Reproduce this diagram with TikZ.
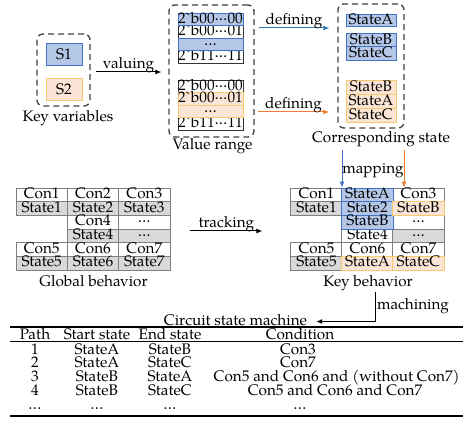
\documentclass[tikz,border=0pt]{standalone}
\usepackage{fontspec}
\setmainfont{TeX Gyre Pagella}
\usetikzlibrary{arrows.meta}
\definecolor{cblue}{HTML}{4472C4}
\definecolor{cbluefill}{HTML}{B4C7E7}
\definecolor{corange}{HTML}{F7C96E}
\definecolor{corangefill}{HTML}{FBE5D6}
\definecolor{cgray}{HTML}{7F7F7F}
\definecolor{cgrayfill}{HTML}{D9D9D9}
\definecolor{adef}{HTML}{2E75B6}
\definecolor{aorg}{HTML}{ED7D31}
\definecolor{dashc}{HTML}{404040}
\begin{document}
\begin{tikzpicture}[x=1pt,y=-1pt,font=\fontsize{15.3}{17}\selectfont,
  dbox/.style={draw=dashc,line width=1.3pt,dash pattern=on 6pt off 4pt,rounded corners=6pt,inner sep=0pt},
  cell/.style={draw,line width=0.8pt,minimum width=51.3pt,minimum height=13.67pt,inner sep=0pt,text height=10pt,text depth=2.5pt},
  cw/.style={cell,draw=cgray,fill=white},
  cg/.style={cell,draw=cgray,fill=cgrayfill},
  cb/.style={cell,draw=cblue,fill=cbluefill},
  co/.style={cell,draw=corange,fill=corangefill},
  vc/.style={draw,line width=0.8pt,minimum width=65pt,minimum height=12.5pt,inner sep=0pt,text height=9.5pt,text depth=1.5pt},
  vw/.style={vc,draw=black!80,fill=white},
  vb/.style={vc,draw=cblue,fill=cbluefill},
  vo/.style={vc,draw=corange,fill=corangefill},
  sc/.style={draw,line width=0.8pt,minimum width=50pt,inner sep=0pt,text height=10pt,text depth=1.5pt},
  sb/.style={sc,draw=cblue,fill=cbluefill},
  so/.style={sc,draw=corange,fill=corangefill},
  lbl/.style={inner sep=0pt,text height=10pt,text depth=3pt},
  arr/.style={line width=1pt,-{Latex[length=6pt,width=5pt]}},
  arrb/.style={line width=1pt,draw=adef,-{Latex[length=6pt,width=5pt]}},
  arro/.style={line width=1pt,draw=aorg,-{Latex[length=6pt,width=5pt]}},
  mapb/.style={line width=1pt,draw=cblue,-{Latex[length=6pt,width=5pt]}},
]
\useasboundingbox (0,0) rectangle (474,422);

% ---- Key variables
\node[dbox,minimum width=53pt,minimum height=72pt] (kv) at (63.5,70) {};
\node[draw=cblue,fill=cbluefill,line width=0.8pt,minimum width=36pt,minimum height=22pt,inner sep=0pt] (s1) at (64,54) {S1};
\node[draw=corange,fill=corangefill,line width=0.8pt,minimum width=36pt,minimum height=22pt,inner sep=0pt] (s2) at (64,89) {S2};
\node[lbl] (kvl) at (68,118.5) {Key variables};

% ---- Value range
\node[dbox,minimum width=85pt,minimum height=132pt] (vr) at (211.5,71) {};
\node[vw] (v2) at (210.5,31.75) {2\textasciigrave b00···01};
\node[vw] (v4) at (210.5,56.75) {2\textasciigrave b11···11};
\node[vb] (v1) at (210.5,19.25) {2\textasciigrave b00···00};
\node[vb] (v3) at (210.5,44.25) {···};
\node[vw] (v5) at (210.5,86.25) {2\textasciigrave b00···00};
\node[vw] (v8) at (210.5,123.75) {2\textasciigrave b11···11};
\node[vo] (v6) at (210.5,98.75) {2\textasciigrave b00···01};
\node[vo] (v7) at (210.5,111.25) {···};
\node[lbl] (vrl) at (212.5,146) {Value range};

% ---- Corresponding state
\node[dbox,minimum width=66pt,minimum height=124pt] (cs) at (371,66) {};
\node[sb,minimum height=12pt] (sA1) at (371,20) {StateA};
\node[sb,minimum height=13.5pt] (sB1) at (371,40) {StateB};
\node[sb,minimum height=13.5pt] (sC1) at (371,53.5) {StateC};
\node[so,minimum height=14pt] (sB2) at (371,87) {StateB};
\node[so,minimum height=14pt] (sA2) at (371,101) {StateA};
\node[so,minimum height=14pt] (sC2) at (371,115.5) {StateC};
\node[lbl] (csl) at (381,139.5) {Corresponding state};

% ---- arrows top
\draw[arr] ([xshift=5pt,yshift=-2pt]kv.east) -- node[lbl,above] (lval) {valuing} ([xshift=-7pt,yshift=-1pt]vr.west);
\draw[arrb] ([xshift=4pt,yshift=43pt]vr.east) -- node[lbl,above] (ldef1) {defining} ([xshift=-8pt,yshift=38pt]cs.west);
\draw[arro] ([xshift=3pt,yshift=-41pt]vr.east) -- node[lbl,above] (ldef2) {defining} ([xshift=-8pt,yshift=-46pt]cs.west);

% ---- Global behavior
\node[cw] (g11) at (41.7,194.8) {Con1};
\node[cw] (g12) at (93,194.8) {Con2};
\node[cw] (g13) at (144.3,194.8) {Con3};
\node[cg] (g21) at (41.7,208.5) {State1};
\node[cg] (g22) at (93,208.5) {State2};
\node[cg] (g23) at (144.3,208.5) {State3};
\node[cw] (g32) at (93,222.2) {Con4};
\node[cw] (g33) at (144.3,222.2) {···};
\node[cg] (g42) at (93,235.8) {State4};
\node[cg] (g43) at (144.3,235.8) {···};
\node[cw] (g51) at (41.7,249.5) {Con5};
\node[cw] (g52) at (93,249.5) {Con6};
\node[cw] (g53) at (144.3,249.5) {Con7};
\node[cg] (g61) at (41.7,263.2) {State5};
\node[cg] (g62) at (93,263.2) {State6};
\node[cg] (g63) at (144.3,263.2) {State7};
\node[lbl] (gbl) at (93.5,283.5) {Global behavior};

% ---- Key behavior
\node[cw] (k11) at (316.5,194.8) {Con1};
\node[cw] (k13) at (418.5,194.8) {Con3};
\node[cg] (k21) at (316.5,208.5) {State1};
\node[cw] (k33) at (418.5,222.2) {···};
\node[cw] (k42) at (367.5,235.8) {State4};
\node[cg] (k43) at (418.5,235.8) {···};
\node[cw] (k51) at (316.5,249.5) {Con5};
\node[cw] (k52) at (367.5,249.5) {Con6};
\node[cw] (k53) at (418.5,249.5) {Con7};
\node[cg] (k61) at (316.5,263.2) {State5};
\node[cb] (k12) at (367.5,194.8) {StateA};
\node[cb] (k22) at (367.5,208.5) {State2};
\node[cb] (k32) at (367.5,222.2) {StateB};
\node[co] (k23) at (418.5,208.5) {StateB};
\node[co] (k62) at (367.5,263.2) {StateA};
\node[co] (k63) at (418.5,263.2) {StateC};
\node[lbl] (kbl) at (368,283.5) {Key behavior};

% ---- mapping / tracking / machining
\coordinate (mb) at (342,150);
\coordinate (mo) at (404,150);
\draw[mapb] (mb) -- (mb |- k12.north);
\draw[arro] (mo) -- (mo |- k13.north);
\node[lbl] (lmap) at (373,170.5) {mapping};
\draw[arr] ([xshift=20pt,yshift=4.8pt]g43.east) -- node[lbl,above] (ltrack) {tracking} ([xshift=-28pt,yshift=4.8pt]k42.west -| k51.west);

\node[lbl] (csm) at (235.5,321.5) {Circuit state machine};
\coordinate (mc) at (375,292);
\draw[arr] (mc) |- ([xshift=9pt]csm.east);
\node[lbl] (lmach) at (413,305.5) {machining};

% ---- bottom table
\draw[line width=1.5pt] (10,327) -- (463,327);
\draw[line width=0.8pt] (10,341) -- (463,341);
\draw[line width=1.5pt] (10,416) -- (463,416);

\node[lbl] (h1) at (35,335.5) {Path};
\node[lbl] (h2) at (97,335.5) {Start state};
\node[lbl] (h3) at (170,335.5) {End state};
\node[lbl] (h4) at (300,335.5) {Condition};

\node[lbl] (r11) at (35,350.5) {1};
\node[lbl] (r12) at (97,350.5) {StateA};
\node[lbl] (r13) at (170,350.5) {StateB};
\node[lbl] (r14) at (298,350.5) {Con3};

\node[lbl] (r21) at (35,364) {2};
\node[lbl] (r22) at (97,364) {StateA};
\node[lbl] (r23) at (170,364) {StateC};
\node[lbl] (r24) at (298,364) {Con7};

\node[lbl] (r31) at (35,378) {3};
\node[lbl] (r32) at (97,378) {StateB};
\node[lbl] (r33) at (170,378) {StateA};
\node[lbl] (r34) at (336.7,378) {Con5 and Con6 and (without Con7)};

\node[lbl] (r41) at (35,391.5) {4};
\node[lbl] (r42) at (97,391.5) {StateB};
\node[lbl] (r43) at (170,391.5) {StateC};
\node[lbl] (r44) at (335,391.5) {Con5 and Con6 and Con7};

\node[lbl] (r51) at (35,405.5) {\dots};
\node[lbl] (r52) at (97,405.5) {\dots};
\node[lbl] (r53) at (170,405.5) {\dots};
\node[lbl] (r54) at (300,405.5) {\dots};
\end{tikzpicture}
\end{document}
